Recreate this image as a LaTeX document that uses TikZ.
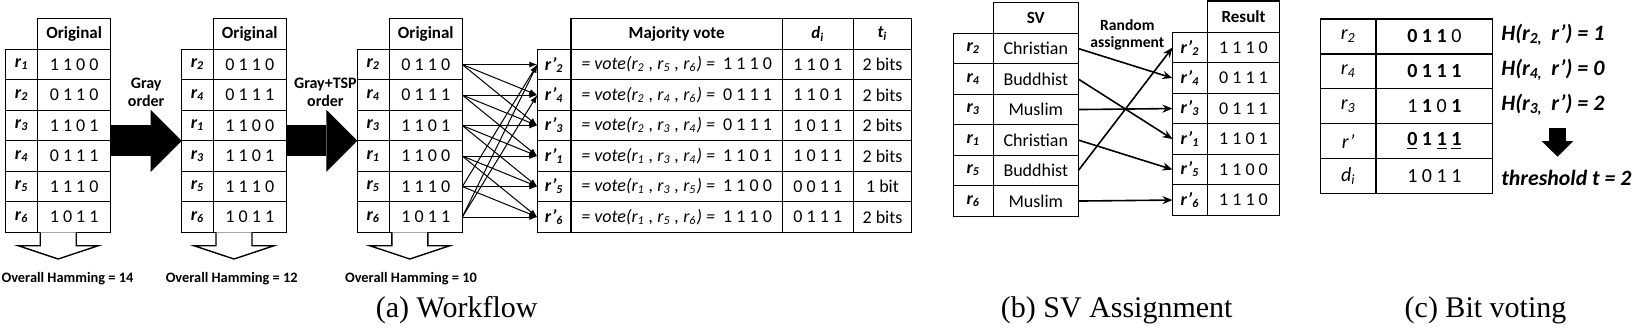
\documentclass[tikz,border=0pt]{standalone}
\usepackage{fontspec}
\setmainfont{Carlito}
\newfontfamily\capfont{Liberation Serif}
\usetikzlibrary{arrows.meta,positioning,calc}
\tikzset{
 cell/.style={
 draw,
 line width=0.6pt,
 inner sep=0pt,
 outer sep=0pt,
 minimum height=15.25pt,
 font=\fontsize{9}{10}\selectfont
 },
 headcell/.style={cell, minimum height=15.5pt, font=\fontsize{8.5}{10}\selectfont\bfseries},
 rowlabel/.style={cell, font=\fontsize{9}{10}\selectfont\bfseries\itshape},
 bitcell/.style={cell, minimum width=58.35pt, minimum height=17.45pt, font=\fontsize{10}{12}\selectfont},
 bitlabel/.style={cell, minimum width=27.65pt, minimum height=17.45pt, font=\fontsize{10}{12}\selectfont\itshape},
 note/.style={align=center, inner sep=0pt, outer sep=0pt, font=\fontsize{8}{8.8}\selectfont\bfseries},
 hamnote/.style={inner sep=0pt, font=\fontsize{7.2}{8.7}\selectfont\bfseries},
 hnote/.style={anchor=west, inner sep=0pt, font=\fontsize{11}{12}\selectfont\bfseries\itshape},
 subcap/.style={anchor=base, inner sep=0pt, font=\capfont\fontsize{15}{18}\selectfont},
 orderarrow/.style={line width=15.5pt, -{Triangle[length=15.5pt, width=31pt, line width=0pt]}},
 downarrow/.style={line width=8.3pt, -{Triangle[length=7.8pt, width=15.8pt, line width=0pt]}},
 voteedge/.style={line width=0.5pt, -{Latex[length=4pt, width=3pt]}},
 assignedge/.style={line width=0.8pt, -{Stealth[length=5pt, width=4pt]}},
 hamarrow/.pic={
 \draw[line width=0.7pt, fill=white] (-18,0) -- (-18,13.4) -- (-40,13.4) -- (0,26.7) -- (40,13.4) -- (18,13.4) -- (18,0);
 }
}

\begin{document}
\begin{tikzpicture}[x=0.5pt, y=-0.5pt]
 \useasboundingbox (0,0) rectangle (1633,327);

 % (a) workflow: original order
 \node[headcell, minimum width=36.5pt, alias=v1-0] (o1) at (74.2,33.8) {Original};
 \foreach \s/\b [count=\i] in {1/1 1 0 0, 2/0 1 1 0, 3/1 1 0 1, 4/0 1 1 1, 5/1 1 1 0, 6/1 0 1 1} {
 \pgfmathtruncatemacro{\j}{\i-1}
 \node[cell, minimum width=36.5pt, below=0pt of v1-\j] (v1-\i) {\b};
 \node[rowlabel, minimum width=16pt, left=0pt of v1-\i] (l1-\i) {r\textsubscript{\s}};
 }

 % gray order
 \node[headcell, minimum width=36.5pt, alias=v2-0] (o2) at (249.8,33.8) {Original};
 \foreach \s/\b [count=\i] in {2/0 1 1 0, 4/0 1 1 1, 1/1 1 0 0, 3/1 1 0 1, 5/1 1 1 0, 6/1 0 1 1} {
 \pgfmathtruncatemacro{\j}{\i-1}
 \node[cell, minimum width=36.5pt, below=0pt of v2-\j] (v2-\i) {\b};
 \node[rowlabel, minimum width=15.8pt, left=0pt of v2-\i] (l2-\i) {r\textsubscript{\s}};
 }

 % gray+TSP order
 \node[headcell, minimum width=36.5pt, alias=v3-0] (o3) at (425.8,33.8) {Original};
 \foreach \s/\b [count=\i] in {2/0 1 1 0, 4/0 1 1 1, 3/1 1 0 1, 1/1 1 0 0, 5/1 1 1 0, 6/1 0 1 1} {
 \pgfmathtruncatemacro{\j}{\i-1}
 \node[cell, minimum width=36.5pt, below=0pt of v3-\j] (v3-\i) {\b};
 \node[rowlabel, minimum width=16pt, left=0pt of v3-\i] (l3-\i) {r\textsubscript{\s}};
 }

 \draw[orderarrow] (v1-3.south east) -- node[note, above=17.2pt] {Gray\\order} (l2-4.north west);
 \draw[orderarrow] (v2-3.south east) -- node[note, above=17.2pt, xshift=1.8pt] {Gray+TSP\\order} (l3-4.north west);

 \pic at ($(l1-6.south west)!0.5!(v1-6.south east)$) {hamarrow};
 \pic at ($(l2-6.south west)!0.5!(v2-6.south east)$) {hamarrow};
 \pic at ($(l3-6.south west)!0.5!(v3-6.south east)$) {hamarrow};
 \node[hamnote] (ham1) at (67.5,279) {Overall Hamming = 14};
 \node[hamnote] (ham2) at (231.7,279) {Overall Hamming = 12};
 \node[hamnote] (ham3) at (411,279) {Overall Hamming = 10};

 % majority vote table
 \node[headcell, minimum width=105.65pt, alias=m-0] (mv) at (676.65,33.8) {Majority vote};
 \node[headcell, minimum width=35.5pt, right=0pt of mv] (dh) {\textit{d\textsubscript{i}}};
 \node[headcell, minimum width=29.2pt, right=0pt of dh] (th) {\textit{t\textsubscript{i}}};
 \foreach \p/\a/\b/\c/\v/\d/\t [count=\i] in {2/2/5/6/1 1 1 0/1 1 0 1/2 bits, 4/2/4/6/0 1 1 1/1 1 0 1/2 bits, 3/2/3/4/0 1 1 1/1 0 1 1/2 bits, 1/1/3/4/1 1 0 1/1 0 1 1/2 bits, 5/1/3/5/1 1 0 0/0 0 1 1/1 bit, 6/1/5/6/1 1 1 0/0 1 1 1/2 bits} {
 \pgfmathtruncatemacro{\j}{\i-1}
 \node[cell, minimum width=105.65pt, below=0pt of m-\j] (m-\i) {\textit{= vote(r\textsubscript{\a} , r\textsubscript{\b} , r\textsubscript{\c}) =}\ \ \v};
 \node[rowlabel, minimum width=16.85pt, left=0pt of m-\i] (p-\i) {r’\textsubscript{\p}};
 \node[cell, minimum width=35.5pt, right=0pt of m-\i] (d-\i) {\d};
 \node[cell, minimum width=29.2pt, right=0pt of d-\i] (t-\i) {\t};
 }
 \foreach \a/\b in {1/1, 5/1, 6/1, 1/2, 2/2, 6/2, 1/3, 2/3, 3/3, 2/4, 3/4, 4/4, 3/5, 4/5, 5/5, 4/6, 5/6, 6/6}
 \draw[voteedge] (v3-\a.east) -- (p-\b.west);

 \node[subcap] (capa) at (456.7,317) {(a) Workflow};

 % (b) SV assignment
 \node[headcell, minimum width=42.5pt, minimum height=15.3pt, alias=s-0] (sv) at (1035.8,18) {SV};
 \foreach \s/\n [count=\i] in {2/Christian, 4/Buddhist, 3/Muslim, 1/Christian, 5/Buddhist, 6/Muslim} {
 \pgfmathtruncatemacro{\j}{\i-1}
 \node[cell, minimum width=42.5pt, below=0pt of s-\j] (s-\i) {\n};
 \node[rowlabel, minimum width=20pt, left=0pt of s-\i] (sl-\i) {r\textsubscript{\s}};
 }
 \node[headcell, minimum width=36pt, minimum height=15.65pt, alias=rv-0] (res) at (1243.5,16.65) {Result};
 \foreach \s/\b [count=\i] in {2/1 1 1 0, 4/0 1 1 1, 3/0 1 1 1, 1/1 1 0 1, 5/1 1 0 0, 6/1 1 1 0} {
 \pgfmathtruncatemacro{\j}{\i-1}
 \node[cell, minimum width=36pt, below=0pt of rv-\j] (rv-\i) {\b};
 \node[rowlabel, minimum width=17.5pt, left=0pt of rv-\i] (rl-\i) {r’\textsubscript{\s}};
 }
 \node[note, font=\fontsize{7.8}{8.65}\selectfont\bfseries] (rand) at (1127.3,34.7) {Random\\assignment};
 \foreach \a/\b in {1/2, 2/4, 3/3, 4/5, 5/1, 6/6}
 \draw[assignedge] (s-\a.east) -- (rl-\b.west);

 \node[subcap] (capb) at (1116.7,317) {(b) SV Assignment};

 % (c) bit voting
 \node[bitcell] (b-1) at (1434.35,36.45) {{\bfseries 0 1 1} 0};
 \node[bitcell, below=0pt of b-1] (b-2) {\bfseries 0 1 1 1};
 \node[bitcell, below=0pt of b-2] (b-3) {1 {\bfseries 1} 0 {\bfseries 1}};
 \node[bitcell, below=0pt of b-3] (b-4) {\bfseries \underline{0} 1 \underline{1} \underline{1}};
 \node[bitcell, below=0pt of b-4] (b-5) {1 0 1 1};
 \node[bitlabel, left=0pt of b-1] (bl-1) {r\textsubscript{2}};
 \node[bitlabel, left=0pt of b-2] (bl-2) {r\textsubscript{4}};
 \node[bitlabel, left=0pt of b-3] (bl-3) {r\textsubscript{3}};
 \node[bitlabel, left=0pt of b-4] (bl-4) {r’};
 \node[bitlabel, left=0pt of b-5] (bl-5) {d\textsubscript{i}};

 \node[hnote] (h2) at (1501,35) {H(r\textsubscript{2,}\, r’) = 1};
 \node[hnote] (h4) at (1501,70) {H(r\textsubscript{4,}\, r’) = 0};
 \node[hnote] (h3) at (1501,105) {H(r\textsubscript{3,}\, r’) = 2};
 \node[hnote, font=\fontsize{10.9}{12}\selectfont\bfseries\itshape] (thr) at (1501,178) {threshold t = 2};
 \coordinate (dtop) at (1557.5,128.3);
 \coordinate (dtip) at (1557.5,156.7);
 \draw[downarrow] (dtop) -- (dtip);

 \node[subcap] (capc) at (1485.5,317) {(c) Bit voting};
\end{tikzpicture}
\end{document}
